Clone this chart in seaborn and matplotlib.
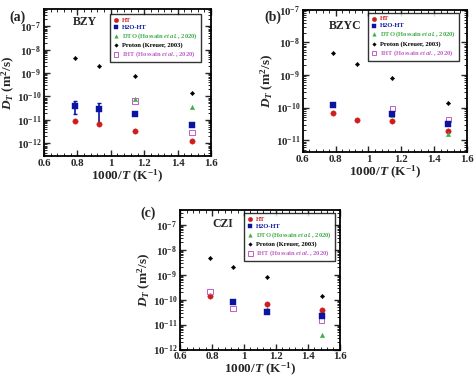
import matplotlib
matplotlib.use('Agg')
import matplotlib.pyplot as plt
from matplotlib.ticker import AutoMinorLocator, LogLocator
import numpy as np
import seaborn as sns

# 1000/T positions (K^-1)
invT = [0.786, 0.932, 1.145, 1.486]

# Proton (Kreuer, 2003) reference values, same in every panel
proton = [4.6e-9, 2.1e-9, 7.8e-10, 1.35e-10]

# panel (a) BZY
bzy_ht = [9.0e-12, 6.8e-12, 3.5e-12, 1.25e-12]
bzy_h2o = [3.9e-11, 2.8e-11, 1.85e-11, 5.9e-12]
bzy_h2o_lo = [1.7e-11, 6.9e-12, 1.55e-11, 5.9e-12]
bzy_h2o_hi = [6.3e-11, 5.1e-11, 2.2e-11, 5.9e-12]
bzy_dto_x = [1.145, 1.486]
bzy_dto = [8.1e-11, 3.4e-11]
bzy_iht_x = [1.145, 1.486]
bzy_iht = [6.3e-11, 2.9e-12]

# panel (b) BZYC
bzyc_ht = [6.8e-11, 4.1e-11, 3.9e-11, 1.9e-11]
bzyc_h2o_x = [0.786, 1.145, 1.486]
bzyc_h2o = [1.2e-10, 6.3e-11, 3.1e-11]
bzyc_dto_x = [1.145, 1.486]
bzyc_dto = [6.0e-11, 1.5e-11]
bzyc_iht_x = [1.145, 1.486]
bzyc_iht = [9.5e-11, 4.2e-11]

# panel (c) CZI
czi_ht_x = [0.786, 1.145, 1.486]
czi_ht = [1.35e-10, 6.7e-11, 4.0e-11]
czi_h2o_x = [0.932, 1.145, 1.486]
czi_h2o = [7.9e-11, 3.3e-11, 2.3e-11]
czi_dto_x = [1.145, 1.486]
czi_dto = [4.3e-11, 3.8e-12]
czi_iht_x = [0.786, 0.932, 1.486]
czi_iht = [2.1e-10, 4.5e-11, 1.45e-11]

RED = '#d01c1c'
BLUE = '#0a14a0'
GREEN = '#3fae49'
MAGENTA = '#c060c8'

sns.set_style('ticks')
plt.rcParams['font.family'] = ['Liberation Serif', 'DejaVu Serif']
plt.rcParams['font.weight'] = 'bold'
plt.rcParams['axes.labelweight'] = 'bold'
plt.rcParams['mathtext.fontset'] = 'custom'
plt.rcParams['mathtext.rm'] = 'Liberation Serif:bold'
plt.rcParams['mathtext.it'] = 'Liberation Serif:italic:bold'
plt.rcParams['mathtext.bf'] = 'Liberation Serif:bold'
plt.rcParams['axes.unicode_minus'] = True

fig = plt.figure(figsize=(4.74, 3.80), dpi=100)


def dress(ax, ylim, panel, name, namepos, labelpos):
    ax.set_yscale('log')
    ax.set_xlim(0.6, 1.6)
    ax.set_ylim(*ylim)
    ax.set_xticks([0.6, 0.8, 1.0, 1.2, 1.4, 1.6])
    ax.set_xticklabels(['0.6', '0.8', '1', '1.2', '1.4', '1.6'])
    ax.xaxis.set_minor_locator(AutoMinorLocator(5))
    ax.yaxis.set_major_locator(LogLocator(base=10, numticks=20))
    ax.yaxis.set_minor_locator(LogLocator(base=10, subs=np.arange(2, 10), numticks=20))
    ax.tick_params(which='both', direction='in', top=True, right=True, labelsize=7.8, pad=2)
    ax.tick_params(which='major', length=4, width=1)
    ax.tick_params(which='minor', length=2, width=0.7)
    for s in ax.spines.values():
        s.set_linewidth(1.3)
        s.set_color('black')
    ax.set_xlabel(r'1000/$T$ (K$^{-1}$)', fontsize=9.5, labelpad=0)
    ax.set_ylabel(r'$D_T$ (m$^2$/s)', fontsize=9.5, labelpad=0)
    ax.text(namepos[0], namepos[1], name, transform=ax.transAxes, fontsize=8.5,
            fontweight='bold', ha='left', va='center')
    fig.text(labelpos[0], labelpos[1], panel, fontsize=10, fontweight='bold',
             ha='left', va='center')


def series(ax, ht, h2o, dto, iht, anchor):
    sns.scatterplot(x=ht[0], y=ht[1], ax=ax, color=RED, marker='o', s=15,
                    edgecolor=RED, linewidth=0.3, label='HT', zorder=3)
    sns.scatterplot(x=h2o[0], y=h2o[1], ax=ax, color=BLUE, marker='s', s=15,
                    edgecolor=BLUE, linewidth=0.3, label='H2O-HT', zorder=4)
    sns.scatterplot(x=dto[0], y=dto[1], ax=ax, color=GREEN, marker='^', s=10,
                    edgecolor=GREEN, linewidth=0.3,
                    label=r'DTO (Hossain $et\ al.$, 2020)', zorder=3)
    sns.scatterplot(x=invT, y=proton, ax=ax, color='black', marker='D', s=5,
                    edgecolor='black', linewidth=0.3,
                    label='Proton (Kreuer, 2003)', zorder=3)
    sns.scatterplot(x=iht[0], y=iht[1], ax=ax, marker='s', s=15,
                    facecolor='none', edgecolor=MAGENTA, linewidth=0.7,
                    label=r'IHT (Hossain $et\ al.$, 2020)', zorder=3)
    leg = ax.legend(loc='upper right', bbox_to_anchor=anchor, fontsize=4.7,
                    frameon=True, fancybox=False, borderpad=0.45,
                    labelspacing=0.22, handletextpad=0.4, handlelength=1.0,
                    borderaxespad=0, markerscale=0.8)
    leg.get_frame().set_edgecolor('black')
    leg.get_frame().set_linewidth(1.0)
    for t, c in zip(leg.get_texts(), [RED, BLUE, GREEN, 'black', MAGENTA]):
        t.set_color(c)
        t.set_fontweight('bold')


# (a) BZY
ax_a = fig.add_axes([0.093, 0.589, 0.352, 0.387])
ax_a.errorbar(invT, bzy_h2o,
              yerr=[np.array(bzy_h2o) - np.array(bzy_h2o_lo),
                    np.array(bzy_h2o_hi) - np.array(bzy_h2o)],
              fmt='none', ecolor=BLUE, elinewidth=1.2, capsize=1.5, zorder=2)
series(ax_a, (invT, bzy_ht), (invT, bzy_h2o), (bzy_dto_x, bzy_dto),
       (bzy_iht_x, bzy_iht), (0.94, 0.965))
dress(ax_a, (2.8e-13, 5.4e-7), '(a)', 'BZY', (0.17, 0.91), (0.02, 0.955))

# (b) BZYC
ax_b = fig.add_axes([0.639, 0.60, 0.346, 0.374])
series(ax_b, (invT, bzyc_ht), (bzyc_h2o_x, bzyc_h2o), (bzyc_dto_x, bzyc_dto),
       (bzyc_iht_x, bzyc_iht), (0.95, 0.98))
dress(ax_b, (4.3e-12, 1e-7), '(b)', 'BZYC', (0.16, 0.89), (0.557, 0.955))

# (c) CZI
ax_c = fig.add_axes([0.38, 0.08, 0.337, 0.368])
series(ax_c, (czi_ht_x, czi_ht), (czi_h2o_x, czi_h2o), (czi_dto_x, czi_dto),
       (czi_iht_x, czi_iht), (0.97, 0.975))
dress(ax_c, (1e-12, 4e-7), '(c)', 'CZI', (0.2, 0.9), (0.297, 0.44))

fig.savefig('out.png', dpi=100)
